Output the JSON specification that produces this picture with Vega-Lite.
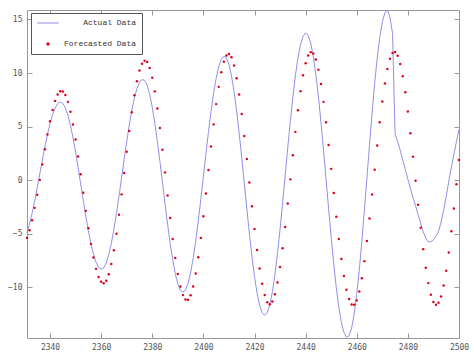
{
  "$schema": "https://vega.github.io/schema/vega-lite/v6.json",
  "width": 432,
  "height": 328,
  "autosize": {"type": "none"},
  "padding": {"left": 27, "top": 10, "right": 15, "bottom": 17},
  "background": "white",
  "config": {
    "view": {"stroke": "#999999", "strokeWidth": 1},
    "axis": {"grid": false, "domain": false, "tickColor": "#999999", "tickSize": -5, "labelFont": "DejaVu Sans Mono", "labelFontSize": 8, "labelColor": "#555555", "labelFlush": false, "labelOverlap": false, "title": null}
  },
  "datasets": {
    "actual": [
      {"x":2331,"y":-4.89},{"x":2332,"y":-4.08},{"x":2333,"y":-3.08},{"x":2334,"y":-1.94},{"x":2335,"y":-0.70},{"x":2336,"y":0.58},{"x":2337,"y":1.88},{"x":2338,"y":3.12},{"x":2339,"y":4.27},{"x":2340,"y":5.28},
      {"x":2341,"y":6.12},{"x":2342,"y":6.75},{"x":2343,"y":7.14},{"x":2344,"y":7.30},{"x":2345,"y":7.18},{"x":2346,"y":6.76},{"x":2347,"y":6.07},{"x":2348,"y":5.12},{"x":2349,"y":3.96},{"x":2350,"y":2.63},
      {"x":2351,"y":1.17},{"x":2352,"y":-0.35},{"x":2353,"y":-1.87},{"x":2354,"y":-3.34},{"x":2355,"y":-4.70},{"x":2356,"y":-5.91},{"x":2357,"y":-6.90},{"x":2358,"y":-7.65},{"x":2359,"y":-8.12},{"x":2360,"y":-8.30},
      {"x":2361,"y":-8.17},{"x":2362,"y":-7.71},{"x":2363,"y":-6.94},{"x":2364,"y":-5.88},{"x":2365,"y":-4.59},{"x":2366,"y":-3.10},{"x":2367,"y":-1.48},{"x":2368,"y":0.22},{"x":2369,"y":1.93},{"x":2370,"y":3.59},
      {"x":2371,"y":5.13},{"x":2372,"y":6.52},{"x":2373,"y":7.67},{"x":2374,"y":8.55},{"x":2375,"y":9.14},{"x":2376,"y":9.39},{"x":2377,"y":9.32},{"x":2378,"y":8.85},{"x":2379,"y":8.00},{"x":2380,"y":6.82},
      {"x":2381,"y":5.34},{"x":2382,"y":3.62},{"x":2383,"y":1.75},{"x":2384,"y":-0.22},{"x":2385,"y":-2.20},{"x":2386,"y":-4.11},{"x":2387,"y":-5.88},{"x":2388,"y":-7.43},{"x":2389,"y":-8.72},{"x":2390,"y":-9.67},
      {"x":2391,"y":-10.25},{"x":2392,"y":-10.45},{"x":2393,"y":-10.24},{"x":2394,"y":-9.63},{"x":2395,"y":-8.64},{"x":2396,"y":-7.30},{"x":2397,"y":-5.67},{"x":2398,"y":-3.81},{"x":2399,"y":-1.77},{"x":2400,"y":0.35},
      {"x":2401,"y":2.47},{"x":2402,"y":4.53},{"x":2403,"y":6.43},{"x":2404,"y":8.12},{"x":2405,"y":9.51},{"x":2406,"y":10.59},{"x":2407,"y":11.27},{"x":2408,"y":11.56},{"x":2409,"y":11.42},{"x":2410,"y":10.80},
      {"x":2411,"y":9.74},{"x":2412,"y":8.28},{"x":2413,"y":6.47},{"x":2414,"y":4.39},{"x":2415,"y":2.10},{"x":2416,"y":-0.28},{"x":2417,"y":-2.67},{"x":2418,"y":-4.98},{"x":2419,"y":-7.10},{"x":2420,"y":-8.98},
      {"x":2421,"y":-10.52},{"x":2422,"y":-11.66},{"x":2423,"y":-12.36},{"x":2424,"y":-12.60},{"x":2425,"y":-12.35},{"x":2426,"y":-11.61},{"x":2427,"y":-10.41},{"x":2428,"y":-8.79},{"x":2429,"y":-6.82},{"x":2430,"y":-4.56},
      {"x":2431,"y":-2.11},{"x":2432,"y":0.44},{"x":2433,"y":3.00},{"x":2434,"y":5.47},{"x":2435,"y":7.74},{"x":2436,"y":9.75},{"x":2437,"y":11.41},{"x":2438,"y":12.65},{"x":2439,"y":13.43},{"x":2440,"y":13.74},
      {"x":2441,"y":13.52},{"x":2442,"y":12.79},{"x":2443,"y":11.55},{"x":2444,"y":9.87},{"x":2445,"y":7.80},{"x":2446,"y":5.41},{"x":2447,"y":2.81},{"x":2448,"y":0.08},{"x":2449,"y":-2.67},{"x":2450,"y":-5.33},
      {"x":2451,"y":-7.80},{"x":2452,"y":-10.03},{"x":2453,"y":-11.87},{"x":2454,"y":-13.28},{"x":2455,"y":-14.23},{"x":2456,"y":-14.64},{"x":2457,"y":-14.53},{"x":2458,"y":-13.79},{"x":2459,"y":-12.48},{"x":2460,"y":-10.63},
      {"x":2461,"y":-8.34},{"x":2462,"y":-5.68},{"x":2463,"y":-2.76},{"x":2464,"y":0.28},{"x":2465,"y":3.34},{"x":2466,"y":6.30},{"x":2467,"y":9.01},{"x":2468,"y":11.39},{"x":2469,"y":13.33},{"x":2470,"y":14.77},
      {"x":2471,"y":15.61},{"x":2472,"y":15.87},{"x":2473,"y":15.2},{"x":2474,"y":13.7},{"x":2475,"y":4.3},{"x":2476,"y":3.6},{"x":2477,"y":2.8},{"x":2478,"y":1.9},{"x":2479,"y":1.0},{"x":2480,"y":0.1},
      {"x":2481,"y":-0.8},{"x":2482,"y":-1.6},{"x":2483,"y":-2.4},{"x":2484,"y":-3.2},{"x":2485,"y":-4.0},{"x":2486,"y":-4.8},{"x":2487,"y":-5.4},{"x":2488,"y":-5.75},{"x":2489,"y":-5.75},{"x":2490,"y":-5.55},
      {"x":2491,"y":-5.2},{"x":2492,"y":-4.75},{"x":2493,"y":-3.9},{"x":2494,"y":-2.8},{"x":2495,"y":-1.5},{"x":2496,"y":-0.1},{"x":2497,"y":1.2},{"x":2498,"y":2.4},{"x":2499,"y":3.6},{"x":2500,"y":4.75}
    ],
    "forecast": [
      {"x":2331,"y":-5.38},{"x":2332,"y":-4.66},{"x":2333,"y":-3.73},{"x":2334,"y":-2.58},{"x":2335,"y":-1.35},{"x":2336,"y":0.03},{"x":2337,"y":1.46},{"x":2338,"y":2.89},{"x":2339,"y":4.26},{"x":2340,"y":5.50},
      {"x":2341,"y":6.56},{"x":2342,"y":7.40},{"x":2343,"y":7.99},{"x":2344,"y":8.30},{"x":2345,"y":8.28},{"x":2346,"y":7.95},{"x":2347,"y":7.31},{"x":2348,"y":6.38},{"x":2349,"y":5.19},{"x":2350,"y":3.79},
      {"x":2351,"y":2.22},{"x":2352,"y":0.55},{"x":2353,"y":-1.16},{"x":2354,"y":-2.86},{"x":2355,"y":-4.48},{"x":2356,"y":-5.94},{"x":2357,"y":-7.21},{"x":2358,"y":-8.27},{"x":2359,"y":-9.03},{"x":2360,"y":-9.48},
      {"x":2361,"y":-9.61},{"x":2362,"y":-9.38},{"x":2363,"y":-8.77},{"x":2364,"y":-7.81},{"x":2365,"y":-6.53},{"x":2366,"y":-4.99},{"x":2367,"y":-3.23},{"x":2368,"y":-1.32},{"x":2369,"y":0.67},{"x":2370,"y":2.66},
      {"x":2371,"y":4.59},{"x":2372,"y":6.35},{"x":2373,"y":7.93},{"x":2374,"y":9.24},{"x":2375,"y":10.24},{"x":2376,"y":10.87},{"x":2377,"y":11.14},{"x":2378,"y":11.02},{"x":2379,"y":10.48},{"x":2380,"y":9.56},
      {"x":2381,"y":8.29},{"x":2382,"y":6.70},{"x":2383,"y":4.87},{"x":2384,"y":2.85},{"x":2385,"y":0.73},{"x":2386,"y":-1.42},{"x":2387,"y":-3.52},{"x":2388,"y":-5.48},{"x":2389,"y":-7.25},{"x":2390,"y":-8.74},
      {"x":2391,"y":-9.92},{"x":2392,"y":-10.72},{"x":2393,"y":-11.13},{"x":2394,"y":-11.15},{"x":2395,"y":-10.73},{"x":2396,"y":-9.91},{"x":2397,"y":-8.71},{"x":2398,"y":-7.19},{"x":2399,"y":-5.38},{"x":2400,"y":-3.37},
      {"x":2401,"y":-1.24},{"x":2402,"y":0.96},{"x":2403,"y":3.14},{"x":2404,"y":5.21},{"x":2405,"y":7.10},{"x":2406,"y":8.71},{"x":2407,"y":10.08},{"x":2408,"y":11.05},{"x":2409,"y":11.63},{"x":2410,"y":11.78},
      {"x":2411,"y":11.48},{"x":2412,"y":10.70},{"x":2413,"y":9.52},{"x":2414,"y":7.99},{"x":2415,"y":6.17},{"x":2416,"y":4.13},{"x":2417,"y":1.98},{"x":2418,"y":-0.22},{"x":2419,"y":-2.42},{"x":2420,"y":-4.54},
      {"x":2421,"y":-6.51},{"x":2422,"y":-8.24},{"x":2423,"y":-9.65},{"x":2424,"y":-10.70},{"x":2425,"y":-11.38},{"x":2426,"y":-11.57},{"x":2427,"y":-11.32},{"x":2428,"y":-10.63},{"x":2429,"y":-9.54},{"x":2430,"y":-8.09},
      {"x":2431,"y":-6.34},{"x":2432,"y":-4.36},{"x":2433,"y":-2.18},{"x":2434,"y":0.08},{"x":2435,"y":2.33},{"x":2436,"y":4.51},{"x":2437,"y":6.52},{"x":2438,"y":8.31},{"x":2439,"y":9.79},{"x":2440,"y":10.92},
      {"x":2441,"y":11.64},{"x":2442,"y":11.95},{"x":2443,"y":11.82},{"x":2444,"y":11.27},{"x":2445,"y":10.30},{"x":2446,"y":8.97},{"x":2447,"y":7.31},{"x":2448,"y":5.40},{"x":2449,"y":3.28},{"x":2450,"y":1.06},
      {"x":2451,"y":-1.20},{"x":2452,"y":-3.41},{"x":2453,"y":-5.48},{"x":2454,"y":-7.35},{"x":2455,"y":-8.94},{"x":2456,"y":-10.21},{"x":2457,"y":-11.09},{"x":2458,"y":-11.59},{"x":2459,"y":-11.61},{"x":2460,"y":-11.21},
      {"x":2461,"y":-10.38},{"x":2462,"y":-9.14},{"x":2463,"y":-7.55},{"x":2464,"y":-5.67},{"x":2465,"y":-3.57},{"x":2466,"y":-1.33},{"x":2467,"y":0.97},{"x":2468,"y":3.24},{"x":2469,"y":5.40},{"x":2470,"y":7.35},
      {"x":2471,"y":9.02},{"x":2472,"y":10.37},{"x":2473,"y":11.34},{"x":2474,"y":11.87},{"x":2475,"y":11.96},{"x":2476,"y":11.62},{"x":2477,"y":10.85},{"x":2478,"y":9.70},{"x":2479,"y":8.20},{"x":2480,"y":6.42},
      {"x":2481,"y":4.39},{"x":2482,"y":2.20},{"x":2483,"y":-0.05},{"x":2484,"y":-2.29},{"x":2485,"y":-4.44},{"x":2486,"y":-6.43},{"x":2487,"y":-8.16},{"x":2488,"y":-9.60},{"x":2489,"y":-10.68},{"x":2490,"y":-11.36},
      {"x":2491,"y":-11.62},{"x":2492,"y":-11.44},{"x":2493,"y":-10.84},{"x":2494,"y":-9.82},{"x":2495,"y":-8.44},{"x":2496,"y":-6.74},{"x":2497,"y":-4.77},{"x":2498,"y":-2.63},{"x":2499,"y":-0.38},{"x":2500,"y":1.89}
    ]
  },
  "layer": [
    {
      "data": {"name": "actual"},
      "mark": {"type": "line", "strokeWidth": 1, "interpolate": "linear"},
      "encoding": {
        "x": {"field": "x", "type": "quantitative", "scale": {"domain": [2331, 2500], "nice": false, "zero": false},
              "axis": {"orient": "bottom", "format": "d", "values": [2340, 2360, 2380, 2400, 2420, 2440, 2460, 2480, 2500], "labelPadding": 10}},
        "y": {"field": "y", "type": "quantitative", "scale": {"domain": [-14.72, 15.88], "nice": false, "zero": false},
              "axis": {"orient": "left", "values": [-10, -5, 0, 5, 10, 15], "labelPadding": 10}},
        "color": {"datum": "Actual Data", "type": "nominal",
          "scale": {"domain": ["Actual Data", "Forecasted Data"], "range": ["#9090e8", "#e0001b"]},
          "legend": {
            "title": null, "orient": "none", "legendX": 4, "legendY": 3, "padding": 6,
            "strokeColor": "#555555", "fillColor": "#ffffff",
            "labelFont": "Liberation Mono", "labelFontSize": 8, "labelColor": "#333333",
            "labelAlign": "right", "labelOffset": 84, "symbolSize": 30, "symbolOffset": 7, "rowPadding": 13,
            "encode": {
              "symbols": {"update": {
                "shape": {"signal": "datum.value === 'Forecasted Data' ? 'circle' : 'M-4,0L4,0'"},
                "size": {"signal": "datum.value === 'Forecasted Data' ? 6 : 30"},
                "fill": {"signal": "datum.value === 'Forecasted Data' ? '#e0001b' : 'transparent'"},
                "stroke": {"signal": "datum.value === 'Forecasted Data' ? 'transparent' : '#9090e8'"},
                "strokeWidth": {"value": 1},
                "opacity": {"value": 1}
              }}
            }
          }
        }
      }
    },
    {
      "data": {"name": "forecast"},
      "mark": {"type": "point", "filled": true, "size": 6, "opacity": 1, "color": "#e0001b", "strokeWidth": 0},
      "encoding": {
        "x": {"field": "x", "type": "quantitative", "scale": {"domain": [2331, 2500], "nice": false, "zero": false},
              "axis": {"orient": "top", "labels": false, "values": [2340, 2360, 2380, 2400, 2420, 2440, 2460, 2480, 2500]}},
        "y": {"field": "y", "type": "quantitative", "scale": {"domain": [-14.72, 15.88], "nice": false, "zero": false},
              "axis": {"orient": "right", "labels": false, "values": [-10, -5, 0, 5, 10, 15]}}
      }
    }
  ],
  "resolve": {"axis": {"x": "independent", "y": "independent"}}
}
